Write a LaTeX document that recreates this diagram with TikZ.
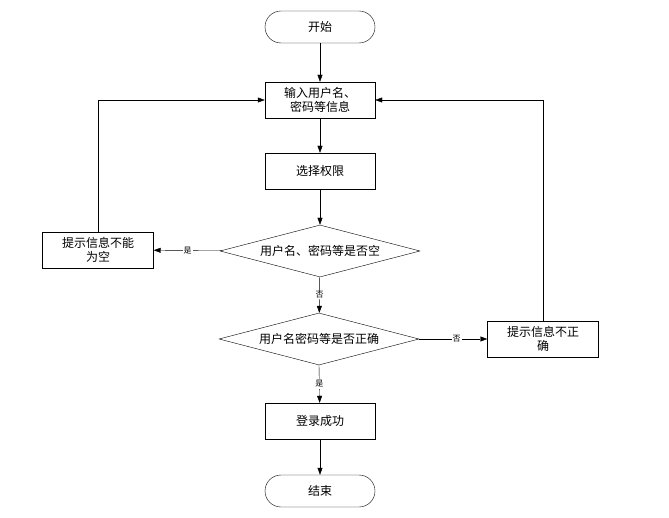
\documentclass[tikz,border=0pt]{standalone}
\usepackage{fontspec}
\newfontfamily\cjk{Noto Sans CJK SC}
\usetikzlibrary{shapes.geometric,arrows.meta}
\begin{document}
\begin{tikzpicture}[x=1pt,y=-1pt,
  every node/.style={font=\cjk\fontsize{12}{14}\selectfont},
  term/.style={draw,rounded corners=16pt,minimum width=110pt,minimum height=32pt},
  box/.style={draw,minimum width=110pt,minimum height=36pt,align=center,inner sep=1pt},
  dia/.style={draw,diamond,aspect=3.8,minimum width=200pt,minimum height=52pt,inner sep=0pt},
  lbl/.style={fill=white,inner sep=1pt,font=\cjk\fontsize{8}{9}\selectfont},
  arr/.style={-{Triangle[length=7pt,width=5pt]}}]
\useasboundingbox (0,0) rectangle (669,518);
\node[term] (start) at (320,27) {开始};
\node[box] (input) at (320,100) {输入用户名、\\密码等信息};
\node[box] (perm) at (320,171) {选择权限};
\node[dia] (d1) at (320,251) {用户名、密码等是否空};
\node[box,minimum width=111pt] (empty) at (98,250) {提示信息不能\\为空};
\node[dia] (d2) at (319,339) {用户名密码等是否正确};
\node[box,minimum width=111pt] (wrong) at (543,339) {提示信息不正\\确};
\node[box] (ok) at (320,421) {登录成功};
\node[term] (end) at (320,491) {结束};
\draw[arr] (start) -- (input);
\draw[arr] (input) -- (perm);
\draw[arr] (perm) -- (d1);
\draw[arr] (d1) -- node[lbl]{否} (d2);
\draw[arr] (d1) -- node[lbl]{是} (empty);
\draw[arr] (d2) -- node[lbl,pos=0.55]{否} (wrong);
\draw[arr] (d2.south) -- node[lbl]{是} (ok);
\draw[arr] (ok) -- (end);
\draw[arr] (empty.north) |- (input.west);
\draw[arr] (wrong.north) |- (input.east);
\end{tikzpicture}
\end{document}
